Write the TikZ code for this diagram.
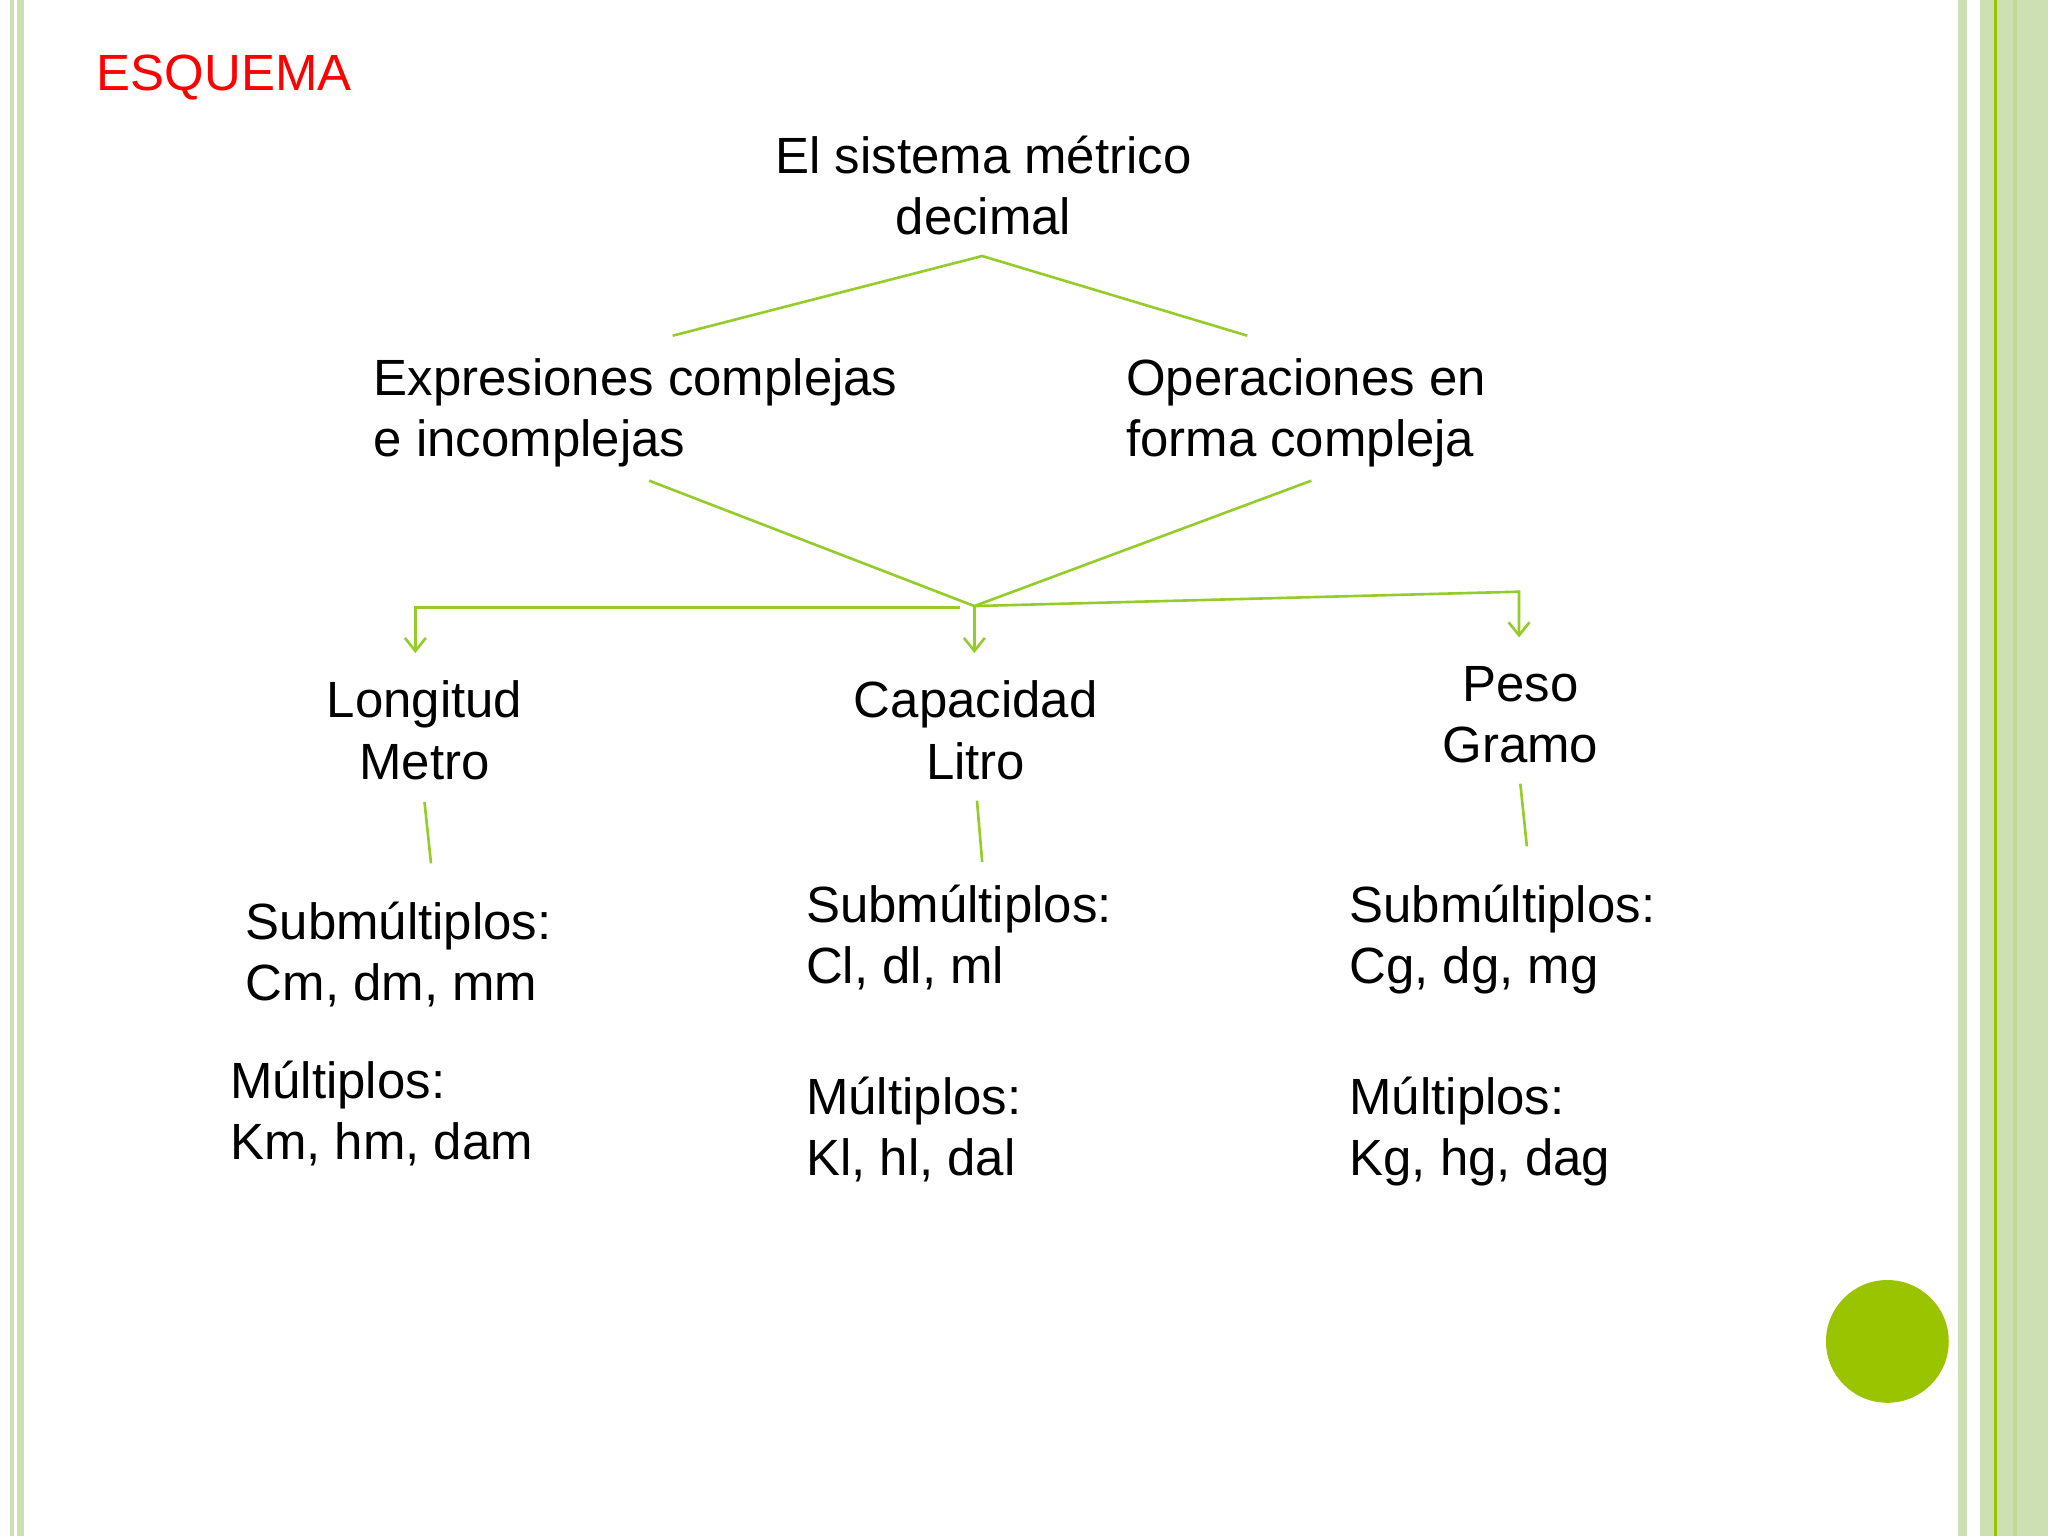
\documentclass[tikz,border=0pt]{standalone}
\usepackage{fontspec}
\setmainfont{Liberation Sans}
\usetikzlibrary{arrows.meta}
\definecolor{lg}{HTML}{CCE0B4}
\definecolor{dg}{HTML}{9BC400}
\definecolor{ln}{HTML}{94CC2A}
\tikzset{
 txt/.style={inner sep=0pt,font=\fontsize{39}{47}\selectfont,align=left,text=black},
 ctxt/.style={txt,align=center},
 con/.style={draw=ln,line width=2pt},
 arr/.style={con,-{Straight Barb[length=10pt,width=16pt,line width=2pt]}}
}
\begin{document}
\begin{tikzpicture}[x=1pt,y=-1pt]
\useasboundingbox (0,0) rectangle (1568,1176);
\fill[white] (0,0) rectangle (1568,1176);
% borders
\fill[lg] (8,0) rectangle (11,1176);
\fill[lg] (13,0) rectangle (18,1176);
\fill[lg] (1499,0) rectangle (1506,1176);
\fill[lg] (1516,0) rectangle (1568,1176);
\fill[dg] (1527,0) rectangle (1529,1176);
\fill[lg!80!dg] (1541,0) rectangle (1544,1176);
\fill[dg] (1445,1027) circle (47);
\node[anchor=west,font=\fontsize{39}{47}\selectfont,text=red,inner sep=0pt] (t) at (74,59) {ESQUEMA};
\node[ctxt] (root) at (753,142) {El sistema métrico\\decimal};
\node[txt,anchor=north west] (exp) at (286,274) {Expresiones complejas\\e incomplejas};
\node[txt,anchor=north west] (ope) at (862,274) {Operaciones en\\forma compleja};
\node[ctxt] (lon) at (325,559) {Longitud\\Metro};
\node[ctxt] (cap) at (747,559) {Capacidad\\Litro};
\node[ctxt] (pes) at (1164,547) {Peso\\Gramo};
\node[txt,anchor=north west] (ls) at (188,690) {Submúltiplos:\\Cm, dm, mm};
\node[txt,anchor=north west] (lm) at (176,812) {Múltiplos:\\Km, hm, dam};
\node[txt,anchor=north west] (cs) at (617,677) {Submúltiplos:\\Cl, dl, ml};
\node[txt,anchor=north west] (cm) at (617,824) {Múltiplos:\\Kl, hl, dal};
\node[txt,anchor=north west] (ps) at (1033,677) {Submúltiplos:\\Cg, dg, mg};
\node[txt,anchor=north west] (pm) at (1033,824) {Múltiplos:\\Kg, hg, dag};
% connector points
\coordinate (r1) at (752,196);
\coordinate (e1) at (515,257);
\coordinate (o1) at (955,257);
\coordinate (e2) at (497,368);
\coordinate (o2) at (1004,368);
\coordinate (h) at (746,464);
\coordinate (hl) at (735,465);
\coordinate (al) at (318,500);
\coordinate (ac) at (746,500);
\coordinate (ar) at (1163,488);
\draw[con] (e1) -- (r1) -- (o1);
\draw[con] (e2) -- (h) -- (o2);
\draw[arr] (hl) -| (al);
\draw[arr] (h) -- (ac);
\draw[arr] (h) -- (1163,453) -- (ar);
\draw[con] (325,614) -- (330,661);
\draw[con] (748,613) -- (752,660);
\draw[con] (1164,600) -- (1169,648);
\end{tikzpicture}
\end{document}
